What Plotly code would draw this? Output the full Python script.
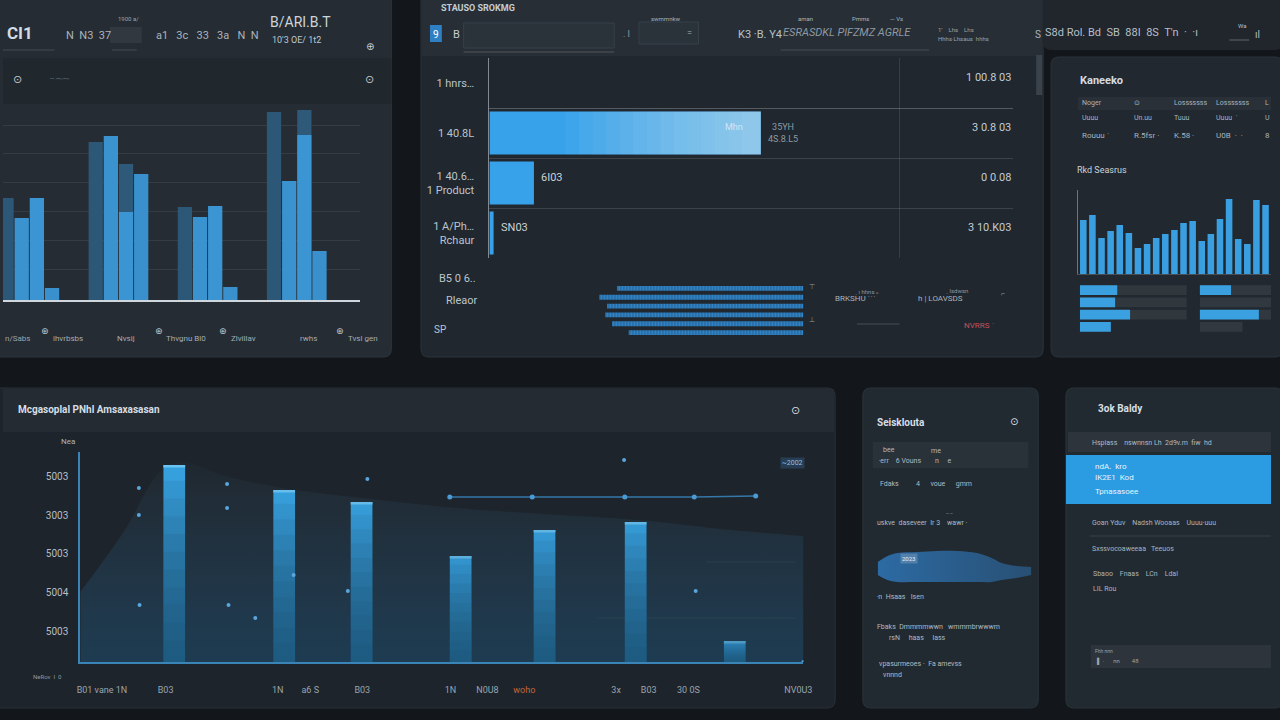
import plotly.graph_objects as go

W, H = 1280, 720
FONT = "Roboto, 'Liberation Sans', 'DejaVu Sans', sans-serif"

# ---------------- data ----------------
# A: grouped vertical bars (top-left panel)
a_groups = ["G1", "G2", "G3", "G4"]
a_dark = [102, 158, 93, 188]
a_light = [82, 164, 83, 119]
a_cap = [0, 136, 0, 190]
a_mid = [102, 88, 94, 165]
a_small = [12, 126, 13, 49]
a_legend = ["ihvrbsbs", "Thvgnu Bl0", "Zlvillav", "Tvsl gen"]

# B: horizontal bars (top-middle panel)
b_rows = ["1 hnrs…", "1 40.8L", "1 40.6…<br>1 Product", "1 A/Ph…<br>Rchaur"]
b_values = [0, 51.8, 8.5, 0.8]
b_right = ["1 00.8 03", "3 0.8 03", "0 0.08", "3 10.K03"]
b_inner = ["", "Mhn", "6I03", "SN03"]
b_outer = ["", "35YH<br>4S.8.L5", "", ""]

# mini striped bars (top-middle panel, bottom)
m_rows = ["m1", "m2", "m3", "m4", "m5", "m6"]
m_values = [190, 208, 200, 202, 195, 178]

# C: small columns (top-right panel)
c_values = [54, 59, 36, 43, 49, 41, 26, 30, 36, 40, 44, 51, 53, 33, 40, 55, 75, 35, 30, 74, 69]
c_idx = list(range(len(c_values)))
p_rows = ["p1", "p2", "p3", "p4"]
p_left_fill = [35, 33, 47, 29]
p_left_track = [100, 100, 100, 0]
p_right_fill = [44, 0, 83, 0]
p_right_track = [100, 100, 100, 60]

# D: bottom-left bar chart
d_x = [13, 28.2, 38.9, 52.6, 64.2, 76.8, 90.5]
d_values = [197, 172, 160, 106, 132, 140, 21]
d_target_x = [51.1, 62.5, 75.3, 84.9, 93.4]
d_target_y = [165, 165, 165, 165, 166]
d_dots_x = [8.1, 8.1, 8.2, 20.3, 20.3, 20.5, 24.2, 29.5, 37.0, 39.7, 75.2, 85.1, 100]
d_dots_y = [174, 147, 57, 178, 154, 57, 44, 87, 71, 183, 202, 71, 0]
d_fog_x = [0, 6, 11, 14, 20, 28, 39, 52, 64, 77, 90, 100]
d_fog_y = [70, 130, 190, 200, 186, 174, 164, 154, 148, 142, 132, 126]
d_yticks = [31, 70, 109, 147, 186]
d_ylabels = ["5003", "5004", "5003", "3003", "5003"]
d_xticks = [3, 11.8, 27.3, 31.8, 39, 51.2, 56.3, 61.4, 74.1, 78.6, 84.1, 99.3]
d_xlabels = ["B01 vane 1N", "B03", "1N", "a6 S", "B03", "1N", "N0U8",
             "<span style='color:#c8643a'>woho</span>", "3x", "B03", "30 0S", "NV0U3"]

# E: small area (bottom-middle panel)
e_x = [0, 10, 20, 40, 60, 80, 100, 115, 125, 140, 155]
e_upper = [23, 29, 32, 33, 34, 34, 32, 27, 22, 19, 18]
e_lower = [10, 5, 3, 3, 3, 3, 3, 3, 5, 7, 10]


# ---------------- helpers ----------------
def fx(x):
    return x / W


def fy(y):
    return 1 - y / H


def dom_x(a, b):
    return [max(0, fx(a)), min(1, fx(b))]


def dom_y(top, bottom):
    return [fy(bottom), fy(top)]


shapes = []
annotations = []


def rrect(x0, y0, x1, y1, fill, line="rgba(0,0,0,0)", r=8):
    rx, ry = r / W, r / H
    X0, X1 = fx(x0), fx(x1)
    Y0, Y1 = fy(y0), fy(y1)  # Y0 top, Y1 bottom
    path = (f"M {X0+rx},{Y0} L {X1-rx},{Y0} Q {X1},{Y0} {X1},{Y0-ry} "
            f"L {X1},{Y1+ry} Q {X1},{Y1} {X1-rx},{Y1} L {X0+rx},{Y1} "
            f"Q {X0},{Y1} {X0},{Y1+ry} L {X0},{Y0-ry} Q {X0},{Y0} {X0+rx},{Y0} Z")
    shapes.append(dict(type="path", path=path, xref="paper", yref="paper",
                       fillcolor=fill, line=dict(color=line, width=1), layer="below"))


def rect(x0, y0, x1, y1, fill, line="rgba(0,0,0,0)"):
    shapes.append(dict(type="rect", xref="paper", yref="paper",
                       x0=fx(x0), x1=fx(x1), y0=fy(y1), y1=fy(y0),
                       fillcolor=fill, line=dict(color=line, width=1), layer="below"))


def hline(x0, x1, y, color, width=1):
    shapes.append(dict(type="line", xref="paper", yref="paper",
                       x0=fx(x0), x1=fx(x1), y0=fy(y), y1=fy(y),
                       line=dict(color=color, width=width), layer="below"))


def T(x, y, text, size=8, color="#aab4bd", anchor="left", bold=False, **kw):
    if bold:
        text = f"<b>{text}</b>"
    annotations.append(dict(x=fx(x), y=fy(y), xref="paper", yref="paper", text=text,
                            showarrow=False, xanchor=anchor, yanchor="middle",
                            font=dict(size=size, color=color, family=FONT), **kw))


# ---------------- panels ----------------
rrect(-12, -12, 392, 357, "#252c33", "#2d353d")
rect(0, 58, 392, 104, "#20272d")
rrect(422, -12, 1050, 357, "#20272e", "#2c343c")
rect(423, -12, 1049, 56, "#272e35")
rect(1043, 55, 1049, 95, "#3a434c")
rrect(1050, -12, 1292, 50, "#20262c")
rrect(1058, 57, 1292, 357, "#21282f", "#2b333b")
rrect(-12, 388, 840, 708, "#1d242b", "#283038")
rect(0, 389, 839, 432, "#242b32")
rrect(868, 388, 1045, 708, "#222a31", "#2b333b")
rrect(1073, 388, 1292, 708, "#222a31", "#2b333b")

# ---------------- traces ----------------
traces = []

# A
A_W = 0.16
for vals, color, off in [(a_dark, "#2d5776", -0.34), (a_light, "#3a93cf", -0.17),
                         (a_cap, "#2e5979", 0.0), (a_mid, "#3a95d2", 0.0),
                         (a_small, "#3990cc", 0.17)]:
    traces.append(go.Bar(x=a_groups, y=vals, width=A_W, offset=off, marker=dict(color=color, line=dict(width=0)),
                         xaxis="x", yaxis="y"))

# B
traces.append(go.Bar(y=b_rows, x=b_values, orientation="h", width=0.86,
                     marker=dict(color="#37a1ea", line=dict(width=0)), xaxis="x2", yaxis="y2"))
b_wide = [v if v > 20 else 0 for v in b_values]
for k in range(14):
    f = 0.28 + k * 0.05
    traces.append(go.Bar(y=b_rows, x=[v * (1 - f) for v in b_wide], base=[v * f for v in b_wide],
                         orientation="h", width=0.86,
                         marker=dict(color="rgba(255,255,255,0.045)", line=dict(width=0)),
                         xaxis="x2", yaxis="y2"))
for i, row in enumerate(b_rows):
    annotations.append(dict(x=1, y=row, xref="x2 domain", yref="y2", text=b_right[i], showarrow=False,
                            xanchor="right", yanchor="middle", yshift=6,
                            font=dict(size=11, color="#c3ccd4", family=FONT)))
    if b_inner[i]:
        inside = b_values[i] > 20
        annotations.append(dict(x=b_values[i] - 3 if inside else max(b_values[i], 0.8) + 1,
                                y=row, xref="x2", yref="y2", text=b_inner[i], showarrow=False,
                                xanchor="right" if inside else "left", yanchor="middle",
                                yshift=6 if inside else 6,
                                font=dict(size=11 if not inside else 9,
                                          color="rgba(255,255,255,0.6)" if inside else "#c9d2da",
                                          family=FONT)))
    if b_outer[i]:
        annotations.append(dict(x=b_values[i] + 1, y=row, xref="x2", yref="y2", text=b_outer[i],
                                showarrow=False, xanchor="left", yanchor="middle",
                                font=dict(size=9, color="#8d99a4", family=FONT)))

# mini striped bars
traces.append(go.Bar(y=m_rows, x=m_values, orientation="h", width=0.55,
                     marker=dict(color="#2f82c4", line=dict(width=0),
                                 pattern=dict(shape="|", fgcolor="#1a3a58", size=3, solidity=0.3)),
                     xaxis="x7", yaxis="y7"))

# C
traces.append(go.Bar(x=c_idx, y=c_values, width=0.72, marker=dict(color="#3a9fe0", line=dict(width=0)),
                     xaxis="x3", yaxis="y3"))
traces.append(go.Bar(y=p_rows, x=p_left_track, orientation="h", width=0.8,
                     marker=dict(color="rgba(255,255,255,0.07)", line=dict(width=0)), xaxis="x8", yaxis="y8"))
traces.append(go.Bar(y=p_rows, x=p_left_fill, orientation="h", width=0.8,
                     marker=dict(color="#3aa0e0", line=dict(width=0)), xaxis="x8", yaxis="y8"))
traces.append(go.Bar(y=p_rows, x=p_right_track, orientation="h", width=0.8,
                     marker=dict(color="rgba(255,255,255,0.08)", line=dict(width=0)), xaxis="x9", yaxis="y9"))
traces.append(go.Bar(y=p_rows, x=p_right_fill, orientation="h", width=0.8,
                     marker=dict(color="#3aa0e0", line=dict(width=0)), xaxis="x9", yaxis="y9"))

# D
traces.append(go.Scatter(x=d_fog_x, y=d_fog_y, mode="lines", line=dict(width=0, shape="spline"),
                         fill="tozeroy",
                         fillgradient=dict(type="vertical",
                                           colorscale=[[0, "rgba(30,88,128,0.45)"],
                                                       [0.6, "rgba(45,100,140,0.2)"],
                                                       [1, "rgba(70,120,150,0.04)"]]),
                         xaxis="x5", yaxis="y5"))
traces.append(go.Bar(x=d_x, y=d_values, width=3, marker=dict(color="#35a3e2", line=dict(width=0)),
                     xaxis="x5", yaxis="y5"))
for k in range(10):
    f = 0.92 - k * 0.09
    traces.append(go.Bar(x=d_x, y=[v * f for v in d_values], width=3,
                         marker=dict(color="rgba(14,34,52,0.075)", line=dict(width=0)),
                         xaxis="x5", yaxis="y5"))
traces.append(go.Bar(x=d_x, y=[2.5] * len(d_values), base=[v - 2.5 for v in d_values], width=3,
                     marker=dict(color="#6cc6f5", line=dict(width=0)), xaxis="x5", yaxis="y5"))
traces.append(go.Scatter(x=d_target_x, y=d_target_y, mode="lines+markers",
                         line=dict(color="#3577a8", width=1.5), marker=dict(size=5, color="#4a9ad6"),
                         xaxis="x5", yaxis="y5"))
traces.append(go.Scatter(x=d_dots_x, y=d_dots_y, mode="markers",
                         marker=dict(size=4, color="#5aa6dc"), xaxis="x5", yaxis="y5"))

# E
traces.append(go.Scatter(x=e_x, y=e_lower, mode="lines", line=dict(width=0, shape="spline"),
                         xaxis="x6", yaxis="y6"))
traces.append(go.Scatter(x=e_x, y=e_upper, mode="lines", line=dict(width=0, shape="spline"),
                         fill="tonexty",
                         fillgradient=dict(type="horizontal",
                                           colorscale=[[0, "rgba(45,110,170,0.95)"],
                                                       [1, "rgba(45,110,170,0.55)"]]),
                         xaxis="x6", yaxis="y6"))

fig = go.Figure(traces)

hidden = dict(showgrid=False, zeroline=False, showticklabels=False, showline=False, ticks="",
              fixedrange=True)

fig.update_layout(
    width=W, height=H, margin=dict(l=0, r=0, t=0, b=0),
    paper_bgcolor="#13171b", plot_bgcolor="rgba(0,0,0,0)",
    barmode="overlay", showlegend=False, hovermode=False,
    font=dict(family=FONT, color="#aab4bd"),
    # A
    xaxis=dict(hidden, domain=dom_x(0, 360), range=[-0.3, 3.7], anchor="y",
               showline=True, linecolor="#cfd6dc", linewidth=2),
    yaxis=dict(hidden, domain=dom_y(100, 300), range=[0, 200], anchor="x",
               showgrid=True, gridcolor="rgba(255,255,255,0.08)",
               tickvals=[31, 60, 89, 118, 147, 175]),
    # B
    xaxis2=dict(hidden, domain=dom_x(491, 1020), range=[0, 100], anchor="y2",
                showgrid=True, gridcolor="rgba(255,255,255,0.1)", tickvals=[78.3]),
    yaxis2=dict(hidden, domain=dom_y(58, 258), anchor="x2", type="category",
                categoryorder="array", categoryarray=b_rows, range=[3.5, -0.5],
                showticklabels=True, tickfont=dict(size=11, color="#bcc5cd"),
                ticklabelstandoff=12, tickson="boundaries", showgrid=True,
                gridcolor="rgba(255,255,255,0.13)", showline=True,
                linecolor="rgba(210,220,230,0.55)", linewidth=1),
    xaxis7=dict(hidden, domain=dom_x(595, 808), range=[215, 0], anchor="y7"),
    yaxis7=dict(hidden, domain=dom_y(284, 337), anchor="x7", type="category",
                categoryorder="array", categoryarray=m_rows, range=[5.5, -0.5]),
    # C
    xaxis3=dict(hidden, domain=dom_x(1085, 1280), range=[-0.6, 20.6], anchor="y3",
                showline=True, linecolor="rgba(255,255,255,0.18)"),
    yaxis3=dict(hidden, domain=dom_y(190, 274), range=[0, 84], anchor="x3",
                showline=True, linecolor="rgba(200,210,220,0.45)"),
    xaxis8=dict(hidden, domain=dom_x(1087, 1195), range=[0, 100], anchor="y8"),
    yaxis8=dict(hidden, domain=dom_y(284, 333), anchor="x8", type="category",
                categoryorder="array", categoryarray=p_rows, range=[3.5, -0.5]),
    xaxis9=dict(hidden, domain=dom_x(1208, 1280), range=[0, 100], anchor="y9"),
    yaxis9=dict(hidden, domain=dom_y(284, 333), anchor="x9", type="category",
                categoryorder="array", categoryarray=p_rows, range=[3.5, -0.5]),
    # D
    xaxis5=dict(hidden, domain=dom_x(78, 808), range=[0, 100], anchor="y5",
                showline=True, linecolor="#3b84b8", linewidth=2,
                showticklabels=True, tickvals=d_xticks, ticktext=d_xlabels,
                tickfont=dict(size=9, color="#9aa5af"), ticklabelstandoff=18),
    yaxis5=dict(hidden, domain=dom_y(452, 662), range=[0, 210], anchor="x5",
                showline=True, linecolor="#3b84b8", linewidth=2,
                showticklabels=True, tickvals=d_yticks, ticktext=d_ylabels,
                tickfont=dict(size=10, color="#b5bec7"), ticklabelstandoff=8),
    # E
    xaxis6=dict(hidden, domain=dom_x(883, 1038), range=[0, 155], anchor="y6"),
    yaxis6=dict(hidden, domain=dom_y(548, 585), range=[0, 37], anchor="x6"),
)

# ---------------- texts / decorations ----------------
# P1 header
T(2, 33, "CI1", 17, "#d4dbe1", bold=True)
T(62, 35, "N  N3  37", 11, "#aab4bd")
rect(108, 27, 140, 43, "rgba(255,255,255,0.06)")
T(114, 18, "1900 a/", 6, "#9aa4ad")
T(152, 35, "a1   3c   33   3a   N  N", 11, "#aab4bd")
T(268, 22, "B/ARI.B.T", 14, "#cdd5dc")
T(270, 40, "10'3 OE/ 1t2", 9, "#bfc8d0")
hline(0, 52, 50, "rgba(255,255,255,0.15)")
hline(110, 135, 50, "rgba(255,255,255,0.15)")
T(370, 47, "⊕", 10, "#c4ccd3", "center")
T(370, 79, "⊙", 11, "#c4ccd3", "center")
T(15, 79, "⊙", 11, "#c4ccd3", "center")
T(45, 79, "‑‑ ⁓⁓", 7, "#6f7a85")
# P1 legend
T(0, 338, "n/Sabs", 8, "#9aa4ad")
leg_x = [42, 157, 222, 340]
for lx, name in zip(leg_x, a_legend):
    T(lx, 331, "⊛", 9, "#c4ccd3", "center")
    T(lx + 6, 338, name, 8, "#a3adb7")
T(113, 338, "Nvsij", 8, "#a3adb7")
T(298, 338, "rwhs", 8, "#a3adb7")

# P2 header
T(440, 8, "STAUSO SROKMG", 9, "#c5cdd4", bold=True)
rect(431, 25, 443, 42, "#2f7fc4")
T(437, 34, "9", 10, "#ffffff", "center")
T(452, 34, "B", 11, "#c5cdd4")
rect(465, 23, 617, 48, "#2a323a", "#37414a")
hline(465, 617, 52, "rgba(255,255,255,0.2)")
T(624, 34, ". I", 9, "#8d98a2")
T(652, 18, "swmmnkw", 6, "#aab4bd")
rect(642, 22, 702, 44, "#2a323a", "#37414a")
T(693, 33, "=", 9, "#aab4bd", "center")
T(740, 34, "K3 ·B. Y4", 11, "#b8c2cb")
T(785, 33, "<i>ESRASDKL PIFZMZ AGRLE</i>", 11, "#8e99a3")
T(800, 18, "aman", 6, "#aab4bd")
T(855, 18, "Pmms", 6, "#aab4bd")
T(893, 18, "— Vs", 6, "#aab4bd")
hline(785, 935, 50, "rgba(255,255,255,0.15)")
T(942, 30, "1ʼ    Lhs    Lhs", 6, "#9aa4ad")
T(942, 38, "Hhhs·Lhsaus  hhhs", 6, "#9aa4ad")
T(1040, 34, "S", 10, "#aab4bd")

# P2 lower labels
T(438, 279, "B5 0 6..", 11, "#bcc5cd")
T(445, 300, "Rleaor", 11, "#bcc5cd")
T(433, 330, "SP", 10, "#bcc5cd")
T(812, 287, "⊤", 7, "#8e99a3")
T(812, 320, "⊥", 7, "#8e99a3")
T(858, 291, "ˏ ı hhns ᵤ", 6, "#8e99a3")
T(838, 298, "BRKSHU ˈˈˈ", 8, "#a9b3bc")
T(950, 290, "ˏ lsdwsn", 6, "#8e99a3")
T(922, 298, "h | LOAVSDS", 8, "#a9b3bc")
T(1005, 294, "⌐", 7, "#8e99a3")
hline(862, 905, 324, "rgba(255,255,255,0.18)")
T(968, 326, "NVRRS ˈ", 8, "#c2505c")

# top-right strip
T(1050, 33, "S8d Rol. Bd  SB  88I  8S  T'n  ·  ·ı", 11, "#b5bfc8")
T(1245, 26, "Wa", 6, "#b5bfc8")
hline(1238, 1258, 40, "rgba(255,255,255,0.3)")
T(1262, 34, "ıl", 10, "#b5bfc8")

# P3
T(1085, 80, "Kaneeko", 11, "#d4dbe1", bold=True)
rect(1085, 97, 1280, 110, "rgba(255,255,255,0.04)")
col_x = [1087, 1140, 1180, 1222, 1272]
for i, t in enumerate(["Noger", "⊙", "Losssssss", "Losssssss", "L"]):
    T(col_x[i], 103, t, 7, "#aab4bd")
for i, t in enumerate(["Uuuu", "Un.uu", "Tuuu", "Uuuu  ˈ", "U"]):
    T(col_x[i], 118, t, 7, "#aab4bd")
for i, t in enumerate(["Rouuu ˈ", "R.5fsr ·", "K.58 ·", "U0B  ·  ·", "8"]):
    T(col_x[i], 135, t, 8, "#aab4bd")
T(1082, 170, "Rkd Seasrus", 9, "#cbd3da")

# P4
T(13, 409, "Mcgasoplal PNhl Amsaxasasan", 10, "#d7dee4", bold=True)
T(800, 410, "⊙", 11, "#d7dee4", "center")
T(57, 441, "Nea", 8, "#aab4bd")
T(797, 463, "~2002", 7, "#8fc0e6", "center", bgcolor="rgba(60,110,160,0.35)")
T(28, 676, "NeRov  I  0", 6, "#8e99a3")
hline(600, 800, 618, "rgba(255,255,255,0.06)")
hline(710, 800, 562, "rgba(255,255,255,0.07)")

# P5
T(880, 422, "Seisklouta", 10, "#d7dee4", bold=True)
T(1021, 421, "⊙", 10, "#d7dee4", "center")
rect(878, 442, 1035, 468, "rgba(255,255,255,0.04)")
T(886, 450, "bee", 7, "#b0bac3")
T(935, 451, "me", 7, "#b0bac3")
T(882, 461, "‧err    6 Vouns        n     e", 7, "#b0bac3")
T(883, 484, "Fdaks          4      voue      gmm", 7, "#b0bac3")
T(950, 513, "‒ ‒", 5, "#8e99a3")
T(880, 523, "uskve  daseveer  Ir 3    wawr ·", 7, "#b0bac3")
T(905, 558, "2023", 6, "#e4eef6", bgcolor="rgba(255,255,255,0.18)")
T(880, 597, "‧n  Hsaas   Isen", 7, "#b0bac3")
T(880, 627, "Fbaks  Dmmmmwwn   wmmmbrwwwm", 7, "#b0bac3")
T(892, 638, "rsN     haas     lass", 7, "#b0bac3")
T(882, 664, "vpasurmeoes ·  Fa amevss", 7, "#b0bac3")
T(886, 675, "vnnnd", 7, "#b0bac3")

# P6
T(1103, 408, "3ok Baldy", 10, "#d7dee4", bold=True)
rect(1075, 432, 1280, 452, "rgba(255,255,255,0.05)")
T(1097, 443, "Hspiass    nswnnsn Lh  2d9v.m  fiw  hd", 7, "#b0bac3")
rect(1073, 455, 1280, 504, "#2b9be2")
T(1100, 466, "ndA.  kro", 8, "#e8f4fc")
T(1100, 477, "IK2E1  Kod", 8, "#e8f4fc")
T(1100, 491, "Tpnasasoee", 8, "#e8f4fc")
T(1097, 523, "Goan Yduv    Nadsh Wooaas    Uuuu·uuu", 7, "#aab4bd")
hline(1097, 1280, 536, "rgba(255,255,255,0.1)")
T(1097, 549, "Sxssvocoaweeaa   Teeuos", 7, "#aab4bd")
T(1098, 574, "Sbaoo    Fnaas    LCn    Ldal", 7, "#aab4bd")
T(1098, 589, "LIL Rou", 7, "#aab4bd")
rect(1098, 645, 1280, 668, "rgba(255,255,255,0.05)")
T(1100, 651, "Fhh nnn", 5, "#9aa4ad")
T(1102, 661, "▌ ·      nn        48", 6, "#9aa4ad")

fig.update_layout(shapes=shapes, annotations=list(fig.layout.annotations) + annotations)
fig.write_html("out.html")
